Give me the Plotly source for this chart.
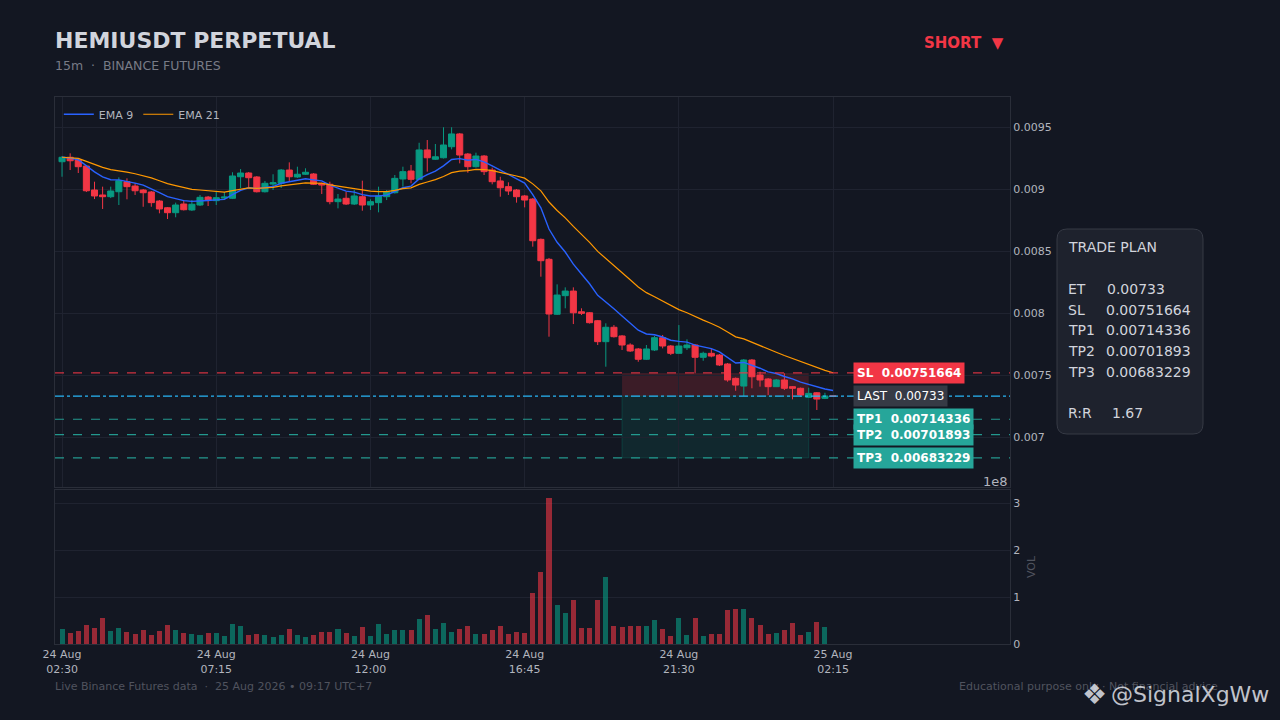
import plotly.graph_objects as go
import pandas as pd

# ---- dados do gráfico ----
start = "2026-08-24 02:30"
n_bars = 96
times = pd.date_range(start, periods=n_bars, freq="15min")

opens = [0.009220, 0.009256, 0.009234, 0.009185, 0.008992, 0.008952, 0.008938, 0.008978, 0.009059, 0.009024,
         0.008992, 0.008976, 0.008903, 0.008849, 0.008809, 0.008879, 0.008831, 0.008871, 0.008935, 0.008906,
         0.008927, 0.008925, 0.009099, 0.009129, 0.009097, 0.008978, 0.009040, 0.009046, 0.009153, 0.009097,
         0.009119, 0.009121, 0.009046, 0.009038, 0.008898, 0.008925, 0.008879, 0.008938, 0.008871, 0.008890,
         0.008938, 0.008970, 0.009081, 0.009145, 0.009078, 0.009315, 0.009240, 0.009252, 0.009341, 0.009444,
         0.009282, 0.009180, 0.009266, 0.009153, 0.009065, 0.009019, 0.008992, 0.008944, 0.008919, 0.008594,
         0.008433, 0.007990, 0.008140, 0.008177, 0.008010, 0.008002, 0.007938, 0.007769, 0.007885, 0.007815,
         0.007742, 0.007710, 0.007627, 0.007702, 0.007801, 0.007734, 0.007675, 0.007720, 0.007742, 0.007643,
         0.007675, 0.007661, 0.007589, 0.007473, 0.007411, 0.007621, 0.007500, 0.007468, 0.007406, 0.007460,
         0.007406, 0.007393, 0.007320, 0.007357, 0.007312, 0.007330]
highs = [0.009266, 0.009288, 0.009242, 0.009194, 0.009059, 0.009019, 0.009019, 0.009094, 0.009086, 0.009046,
         0.009000, 0.008984, 0.008911, 0.008855, 0.008890, 0.008911, 0.008911, 0.008952, 0.008944, 0.008978,
         0.008976, 0.009135, 0.009161, 0.009137, 0.009105, 0.009065, 0.009119, 0.009161, 0.009215, 0.009180,
         0.009167, 0.009129, 0.009052, 0.009059, 0.008960, 0.008978, 0.008992, 0.009067, 0.008917, 0.009019,
         0.008992, 0.009113, 0.009180, 0.009194, 0.009373, 0.009395, 0.009363, 0.009498, 0.009498, 0.009452,
         0.009290, 0.009293, 0.009274, 0.009172, 0.009099, 0.009054, 0.009000, 0.008952, 0.008927, 0.008601,
         0.008444, 0.008231, 0.008207, 0.008207, 0.008038, 0.008008, 0.007944, 0.007917, 0.007903, 0.007823,
         0.007756, 0.007718, 0.007742, 0.007815, 0.007823, 0.007742, 0.007903, 0.007788, 0.007750, 0.007688,
         0.007715, 0.007669, 0.007597, 0.007480, 0.007629, 0.007629, 0.007527, 0.007476, 0.007468, 0.007514,
         0.007411, 0.007399, 0.007398, 0.007363, 0.007357, 0.007330]
lows = [0.009099, 0.009153, 0.009129, 0.008976, 0.008919, 0.008839, 0.008927, 0.008871, 0.008917, 0.008952,
        0.008857, 0.008857, 0.008804, 0.008758, 0.008772, 0.008827, 0.008823, 0.008863, 0.008863, 0.008871,
        0.008911, 0.008919, 0.009008, 0.009008, 0.008972, 0.008972, 0.008992, 0.009008, 0.009059, 0.009089,
        0.009113, 0.009032, 0.008960, 0.008877, 0.008844, 0.008871, 0.008871, 0.008825, 0.008831, 0.008812,
        0.008911, 0.008964, 0.009019, 0.009046, 0.009073, 0.009140, 0.009234, 0.009246, 0.009320, 0.009207,
        0.009131, 0.009173, 0.009113, 0.009038, 0.008938, 0.008952, 0.008890, 0.008852, 0.008535, 0.008293,
        0.007809, 0.007984, 0.008038, 0.007911, 0.007984, 0.007915, 0.007742, 0.007567, 0.007802, 0.007702,
        0.007686, 0.007607, 0.007621, 0.007694, 0.007715, 0.007661, 0.007673, 0.007702, 0.007514, 0.007615,
        0.007643, 0.007573, 0.007446, 0.007373, 0.007331, 0.007393, 0.007406, 0.007339, 0.007403, 0.007379,
        0.007304, 0.007323, 0.007319, 0.007218, 0.007306, 0.007330]
closes = [0.009256, 0.009228, 0.009180, 0.008986, 0.008944, 0.008938, 0.008984, 0.009067, 0.009019, 0.008986,
          0.008970, 0.008890, 0.008839, 0.008809, 0.008871, 0.008833, 0.008877, 0.008933, 0.008911, 0.008930,
          0.008935, 0.009105, 0.009129, 0.009091, 0.008978, 0.009046, 0.009051, 0.009153, 0.009099, 0.009119,
          0.009135, 0.009038, 0.009032, 0.008898, 0.008919, 0.008879, 0.008944, 0.008871, 0.008898, 0.008944,
          0.008978, 0.009086, 0.009140, 0.009078, 0.009315, 0.009252, 0.009260, 0.009355, 0.009444, 0.009274,
          0.009180, 0.009266, 0.009140, 0.009059, 0.009010, 0.008984, 0.008938, 0.008911, 0.008583, 0.008422,
          0.007992, 0.008145, 0.008177, 0.008002, 0.007998, 0.007922, 0.007769, 0.007885, 0.007809, 0.007742,
          0.007694, 0.007627, 0.007710, 0.007801, 0.007734, 0.007675, 0.007734, 0.007742, 0.007643, 0.007675,
          0.007653, 0.007581, 0.007460, 0.007419, 0.007621, 0.007486, 0.007460, 0.007406, 0.007460, 0.007393,
          0.007393, 0.007339, 0.007352, 0.007306, 0.007331, 0.007330]
# volume em unidades de 1e8
volumes = [0.32, 0.234, 0.277, 0.404, 0.34, 0.553, 0.277, 0.34, 0.255, 0.213,
           0.298, 0.19, 0.277, 0.404, 0.298, 0.234, 0.213, 0.19, 0.234, 0.234,
           0.17, 0.425, 0.383, 0.19, 0.213, 0.19, 0.149, 0.19, 0.32, 0.19,
           0.149, 0.19, 0.255, 0.255, 0.32, 0.234, 0.17, 0.362, 0.17, 0.425,
           0.213, 0.298, 0.298, 0.298, 0.532, 0.617, 0.32, 0.447, 0.255, 0.32,
           0.383, 0.213, 0.213, 0.298, 0.383, 0.213, 0.255, 0.234, 1.085, 1.532,
           3.106, 0.83, 0.66, 0.936, 0.34, 0.34, 0.936, 1.426, 0.383, 0.362,
           0.383, 0.383, 0.383, 0.51, 0.32, 0.17, 0.553, 0.19, 0.553, 0.17,
           0.213, 0.213, 0.723, 0.745, 0.745, 0.553, 0.404, 0.213, 0.234, 0.298,
           0.447, 0.19, 0.255, 0.468, 0.362, 0.004]

entry = 0.00733
stop_loss = 0.00751664
tp1 = 0.00714336
tp2 = 0.00701893
tp3 = 0.00683229
risk_reward = 1.67
last_price = 0.00733

price_ticks = [0.007, 0.0075, 0.008, 0.0085, 0.009, 0.0095]
price_tick_text = ["0.007", "0.0075", "0.008", "0.0085", "0.009", "0.0095"]
vol_ticks = [0, 1, 2, 3]
x_tick_idx = [0, 19, 38, 57, 76, 95]
x_tick_text = ["24 Aug<br>02:30", "24 Aug<br>07:15", "24 Aug<br>12:00",
               "24 Aug<br>16:45", "24 Aug<br>21:30", "25 Aug<br>02:15"]
zone_start, zone_end = 69, 92

# ---- cores ----
BG = "#131722"
GRID = "#1f2330"
FRAME = "#2a2e39"
TXT = "#b2b5be"
UP = "#089981"
DOWN = "#f23645"
FONT = "DejaVu Sans"

# ---- geometria (pixels -> paper) ----
W, H = 1280, 720
ML, MR, MT, MB = 55, 270, 97, 76
PW, PH = W - ML - MR, H - MT - MB


def px_x(px):
    return (px - ML) / PW


def px_y(py):
    return (H - MB - py) / PH


close_s = pd.Series(closes)
ema9 = close_s.ewm(span=9, adjust=False).mean()
ema21 = close_s.ewm(span=21, adjust=False).mean()

bar_ms = 15 * 60 * 1000
x_left = times[0] - pd.Timedelta(minutes=13)
x_right = times[0] + pd.Timedelta(minutes=1752)
tick_times = [times[i] for i in x_tick_idx]

vol_colors = ["rgba(8,153,129,0.62)" if c >= o else "rgba(242,54,69,0.6)"
              for o, c in zip(opens, closes)]

fig = go.Figure()

fig.add_trace(go.Candlestick(
    x=times, open=opens, high=highs, low=lows, close=closes,
    increasing=dict(line=dict(color=UP, width=1), fillcolor=UP),
    decreasing=dict(line=dict(color=DOWN, width=1), fillcolor=DOWN),
    whiskerwidth=0, showlegend=False, hoverinfo="skip",
    xaxis="x", yaxis="y"
))
fig.add_trace(go.Scatter(x=times, y=ema9, mode="lines", name="EMA 9",
                         line=dict(color="#2962ff", width=1.4), hoverinfo="skip",
                         xaxis="x", yaxis="y"))
fig.add_trace(go.Scatter(x=times, y=ema21, mode="lines", name="EMA 21",
                         line=dict(color="#ff9800", width=1.2), hoverinfo="skip",
                         xaxis="x", yaxis="y"))
fig.add_trace(go.Bar(x=times, y=volumes, marker=dict(color=vol_colors, line=dict(width=0)),
                     width=bar_ms * 0.62, showlegend=False, hoverinfo="skip",
                     xaxis="x2", yaxis="y2"))

shapes = []
# zonas de risco / alvo
shapes.append(dict(type="rect", xref="x", yref="y", x0=times[zone_start], x1=times[zone_end],
                   y0=entry, y1=stop_loss, fillcolor="rgba(242,54,69,0.18)",
                   line=dict(width=0), layer="below"))
shapes.append(dict(type="rect", xref="x", yref="y", x0=times[zone_start], x1=times[zone_end],
                   y0=tp3, y1=entry, fillcolor="rgba(8,153,129,0.13)",
                   line=dict(width=1, color="rgba(8,153,129,0.25)"), layer="below"))
# linhas horizontais
shapes.append(dict(type="line", xref="paper", yref="y", x0=0, x1=1, y0=stop_loss, y1=stop_loss,
                   line=dict(color="rgba(242,54,69,0.85)", width=1.2, dash="dash")))
shapes.append(dict(type="line", xref="paper", yref="y", x0=0, x1=1, y0=last_price, y1=last_price,
                   line=dict(color="#29b6f6", width=1.2, dash="dashdot")))
for lvl in [tp1, tp2, tp3]:
    shapes.append(dict(type="line", xref="paper", yref="y", x0=0, x1=1, y0=lvl, y1=lvl,
                       line=dict(color="rgba(38,166,154,0.9)", width=1.2, dash="dash")))

# caixa TRADE PLAN com cantos arredondados
bx0, bx1, by0, by1, r = 1057, 1203, 229, 434, 10
path = (f"M {px_x(bx0 + r)},{px_y(by0)} L {px_x(bx1 - r)},{px_y(by0)} "
        f"Q {px_x(bx1)},{px_y(by0)} {px_x(bx1)},{px_y(by0 + r)} "
        f"L {px_x(bx1)},{px_y(by1 - r)} Q {px_x(bx1)},{px_y(by1)} {px_x(bx1 - r)},{px_y(by1)} "
        f"L {px_x(bx0 + r)},{px_y(by1)} Q {px_x(bx0)},{px_y(by1)} {px_x(bx0)},{px_y(by1 - r)} "
        f"L {px_x(bx0)},{px_y(by0 + r)} Q {px_x(bx0)},{px_y(by0)} {px_x(bx0 + r)},{px_y(by0)} Z")
shapes.append(dict(type="path", xref="paper", yref="paper", path=path,
                   fillcolor="#1e222d", line=dict(color="#363a45", width=1)))

annotations = []
NB = "\u00a0"


def level_label(text, level, bg, bold=True):
    t = f"<b>{text}</b>" if bold else text
    annotations.append(dict(xref="paper", yref="y", x=px_x(853), y=level, xanchor="left",
                            yanchor="middle", text=t, showarrow=False, bgcolor=bg,
                            borderpad=3, font=dict(family=FONT, size=12, color="#ffffff")))


level_label(f"SL{NB*2}{stop_loss}", stop_loss, DOWN)
level_label(f"LAST{NB*2}{last_price}", last_price, "#363a45", bold=False)
level_label(f"TP1{NB*2}{tp1}", tp1, "#26a69a")
level_label(f"TP2{NB*2}{tp2}", tp2, "#26a69a")
level_label(f"TP3{NB*2}{tp3}", tp3, "#26a69a")

# texto da caixa
plan_rows = [("ET", f"{entry}", 289, 1105), ("SL", f"{stop_loss}", 310, 1104),
             ("TP1", f"{tp1}", 330, 1104), ("TP2", f"{tp2}", 351, 1104),
             ("TP3", f"{tp3}", 372, 1104), ("R:R", f"{risk_reward}", 413, 1110)]
annotations.append(dict(xref="paper", yref="paper", x=px_x(1066), y=px_y(247), xanchor="left",
                        yanchor="middle", text="TRADE PLAN", showarrow=False,
                        font=dict(family=FONT, size=14, color="#d1d4dc")))
for lab, val, py, vx in plan_rows:
    annotations.append(dict(xref="paper", yref="paper", x=px_x(1066), y=px_y(py), xanchor="left",
                            yanchor="middle", text=lab, showarrow=False,
                            font=dict(family=FONT, size=14, color="#d1d4dc")))
    annotations.append(dict(xref="paper", yref="paper", x=px_x(vx), y=px_y(py), xanchor="left",
                            yanchor="middle", text=val, showarrow=False,
                            font=dict(family=FONT, size=14, color="#d1d4dc")))

# cabeçalho
annotations.append(dict(xref="paper", yref="paper", x=px_x(53), y=px_y(40), xanchor="left",
                        yanchor="middle", text="<b>HEMIUSDT PERPETUAL</b>", showarrow=False,
                        font=dict(family=FONT, size=22, color="#d1d4dc")))
annotations.append(dict(xref="paper", yref="paper", x=px_x(53), y=px_y(66), xanchor="left",
                        yanchor="middle", text=f"15m{NB*2}·{NB*2}BINANCE FUTURES", showarrow=False,
                        font=dict(family=FONT, size=12.5, color="#787b86")))
annotations.append(dict(xref="paper", yref="paper", x=px_x(1006), y=px_y(43), xanchor="right",
                        yanchor="middle", text=f"<b>SHORT{NB*2}▼</b>", showarrow=False,
                        font=dict(family=FONT, size=15, color=DOWN)))
# expoente do volume
annotations.append(dict(xref="paper", yref="paper", x=1.0, y=px_y(481), xanchor="right",
                        yanchor="middle", text="1e8", showarrow=False,
                        font=dict(family=FONT, size=13, color=TXT)))
# rodapé
annotations.append(dict(xref="paper", yref="paper", x=px_x(53), y=px_y(686), xanchor="left",
                        yanchor="middle",
                        text=f"Live Binance Futures data{NB*2}·{NB*2}25 Aug 2026 • 09:17 UTC+7",
                        showarrow=False, font=dict(family=FONT, size=11, color="#50535e")))
annotations.append(dict(xref="paper", yref="paper", x=px_x(1220), y=px_y(686), xanchor="right",
                        yanchor="middle", text="Educational purpose only · Not financial advice",
                        showarrow=False, font=dict(family=FONT, size=11, color="#50535e")))
annotations.append(dict(xref="paper", yref="paper", x=px_x(1094), y=px_y(694), xanchor="center",
                        yanchor="middle", text="❖", showarrow=False,
                        font=dict(family=FONT, size=28, color="rgba(225,228,235,0.85)")))
annotations.append(dict(xref="paper", yref="paper", x=px_x(1109), y=px_y(694), xanchor="left",
                        yanchor="middle", text="@SignalXgWw", showarrow=False,
                        font=dict(family=FONT, size=22, color="rgba(225,228,235,0.85)")))

fig.update_layout(
    width=W, height=H,
    paper_bgcolor=BG, plot_bgcolor=BG,
    margin=dict(l=ML, r=MR, t=MT, b=MB),
    font=dict(family=FONT, color=TXT, size=11),
    showlegend=True,
    legend=dict(orientation="h", x=0.004, y=0.995, xanchor="left", yanchor="top",
                bgcolor="rgba(0,0,0,0)", font=dict(family=FONT, size=11, color=TXT)),
    hovermode=False,
    bargap=0,
    boxgap=0.12,
    boxgroupgap=0.15,
    xaxis=dict(domain=[0, 1], anchor="y", range=[x_left, x_right], type="date",
               tickvals=tick_times, showticklabels=False, showgrid=True, gridcolor=GRID,
               zeroline=False, showline=True, linecolor=FRAME, mirror=True, ticks="",
               rangeslider=dict(visible=False)),
    yaxis=dict(domain=[px_y(487), 1], anchor="x", side="right",
               range=[0.006597, 0.009742], tickvals=price_ticks, ticktext=price_tick_text,
               showgrid=True, gridcolor=GRID, zeroline=False, showline=True, linecolor=FRAME,
               mirror=True, ticks="", tickfont=dict(size=11, color=TXT)),
    xaxis2=dict(domain=[0, 1], anchor="y2", range=[x_left, x_right], type="date",
                tickvals=tick_times, ticktext=x_tick_text, showgrid=False, zeroline=False,
                showline=True, linecolor=FRAME, mirror=True, ticks="",
                tickfont=dict(size=11, color=TXT)),
    yaxis2=dict(domain=[0, px_y(490)], anchor="x2", side="right", range=[0, 3.28],
                tickvals=vol_ticks, ticktext=[str(v) for v in vol_ticks],
                showgrid=True, gridcolor=GRID, zeroline=False, showline=True, linecolor=FRAME,
                mirror=True, ticks="", tickfont=dict(size=11, color=TXT),
                title=dict(text="VOL", font=dict(size=11, color="#50535e"), standoff=8)),
    shapes=shapes,
    annotations=annotations,
)

fig.write_html("out.html", config={"displayModeBar": False},
               post_script="document.body.style.margin='0';document.body.style.background='#131722';")
